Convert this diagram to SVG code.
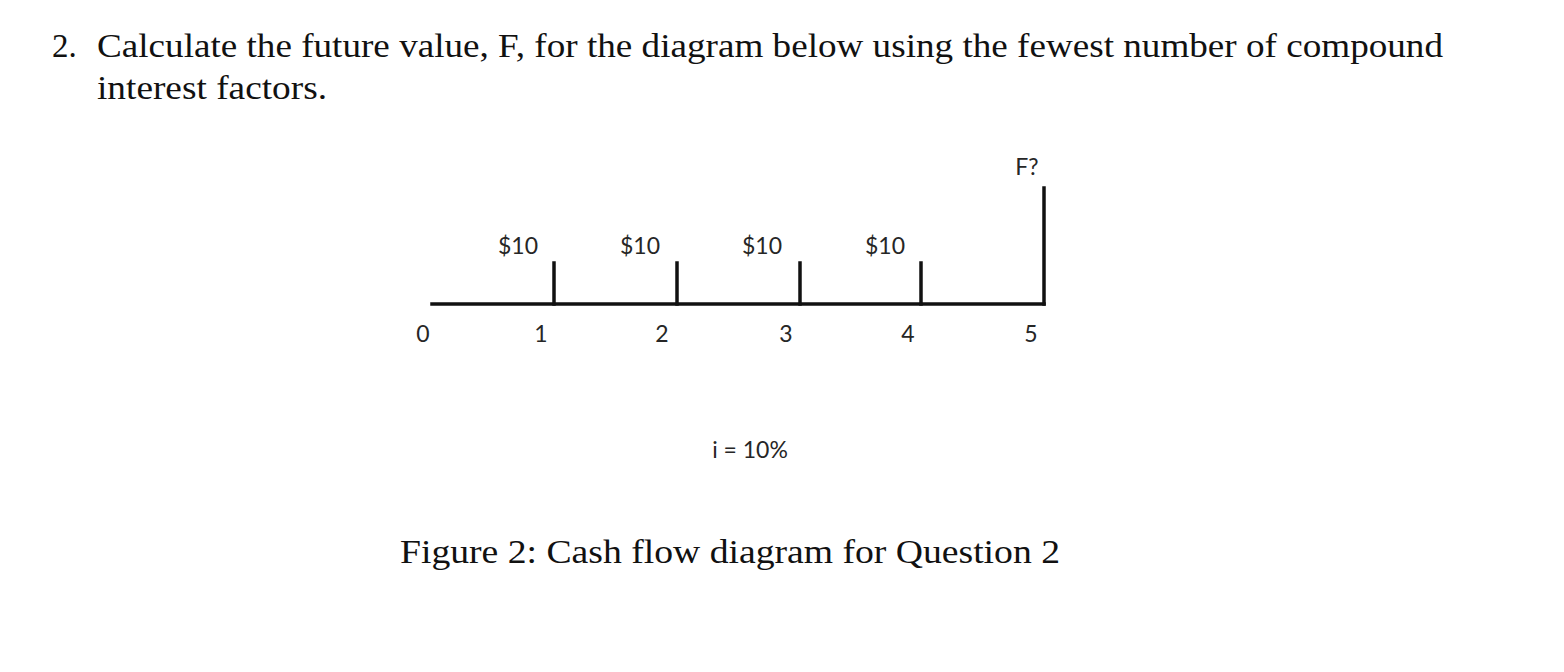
<svg xmlns="http://www.w3.org/2000/svg" width="1564" height="672" viewBox="0 0 1564 672">
<style>
.t{font-family:"Liberation Serif","DejaVu Serif",serif;font-size:33px;fill:#111}
.l{font-family:Lato,"Open Sans","Liberation Sans",sans-serif;font-size:23px;fill:#262626}
.ax{stroke:#111;stroke-width:3.5;fill:none;stroke-linecap:square}
</style>
<rect width="1564" height="672" fill="#fff"/>
<g id="title">
<text class="t" x="52" y="57">2.</text>
<text class="t" x="97" y="57" textLength="1346" lengthAdjust="spacingAndGlyphs">Calculate the future value, F, for the diagram below using the fewest number of compound</text>
<text class="t" x="97" y="99" textLength="230" lengthAdjust="spacingAndGlyphs">interest factors.</text>
</g>
<g id="connectors">
<line class="ax" x1="432" y1="304" x2="1044" y2="304"/>
<line class="ax" x1="554" y1="263" x2="554" y2="304"/>
<line class="ax" x1="677" y1="263" x2="677" y2="304"/>
<line class="ax" x1="800" y1="263" x2="800" y2="304"/>
<line class="ax" x1="921" y1="263" x2="921" y2="304"/>
<line class="ax" x1="1044" y1="188" x2="1044" y2="304"/>
</g>
<g id="labels" text-anchor="middle">
<text class="l" x="423" y="342">0</text>
<text class="l" x="541" y="342">1</text>
<text class="l" x="662" y="342">2</text>
<text class="l" x="786" y="342">3</text>
<text class="l" x="908" y="342">4</text>
<text class="l" x="1031" y="342">5</text>
<text class="l" x="518" y="254">$10</text>
<text class="l" x="640" y="254">$10</text>
<text class="l" x="762" y="254">$10</text>
<text class="l" x="885" y="254">$10</text>
<text class="l" x="1027" y="175">F?</text>
<text class="l" x="750" y="458">i = 10%</text>
</g>
<g id="caption">
<text class="t" x="400" y="563" textLength="660" lengthAdjust="spacingAndGlyphs">Figure 2: Cash flow diagram for Question 2</text>
</g>
</svg>
